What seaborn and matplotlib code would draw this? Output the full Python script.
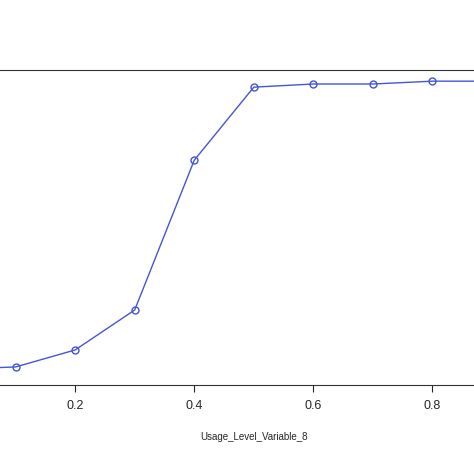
import matplotlib
matplotlib.use("Agg")
import matplotlib.pyplot as plt
import seaborn as sns
import pandas as pd

x_vals = [0.0, 0.1, 0.2, 0.3, 0.4, 0.5, 0.6, 0.7, 0.8, 0.9, 1.0]
y_vals = [0.05, 0.057, 0.111, 0.238, 0.714, 0.946, 0.956, 0.956, 0.965, 0.965, 0.965]
tick_vals = [0.2, 0.4, 0.6, 0.8]
tick_labels = ["0.2", "0.4", "0.6", "0.8"]
xlabel = "Usage_Level_Variable_8"

sns.set_style("white")
plt.rcParams['font.family'] = ['Liberation Sans', 'DejaVu Sans']
fig = plt.figure(figsize=(4.74, 4.74), dpi=100)
ax = fig.add_axes([-0.143, 0.188, 1.357, 0.664])
df = pd.DataFrame({"x": x_vals, "y": y_vals})
sns.lineplot(data=df, x="x", y="y", ax=ax, color="#4455d6", lw=1.0,
             marker="o", markersize=5, markerfacecolor="none",
             markeredgecolor="#4455d6", markeredgewidth=1.0)
ax.set_xlim(-0.04, 1.04)
ax.set_ylim(0, 1)
ax.set_xticks(tick_vals)
ax.set_xticklabels(tick_labels, fontsize=9)
ax.set_yticks([])
ax.tick_params(axis="x", direction="out", length=5, width=0.8, bottom=True, pad=6)
ax.set_xlabel(xlabel, fontsize=7, labelpad=14)
ax.set_ylabel("")
for s in ax.spines.values():
    s.set_color("#333333"); s.set_linewidth(0.8)
fig.savefig("out.png", dpi=100)
